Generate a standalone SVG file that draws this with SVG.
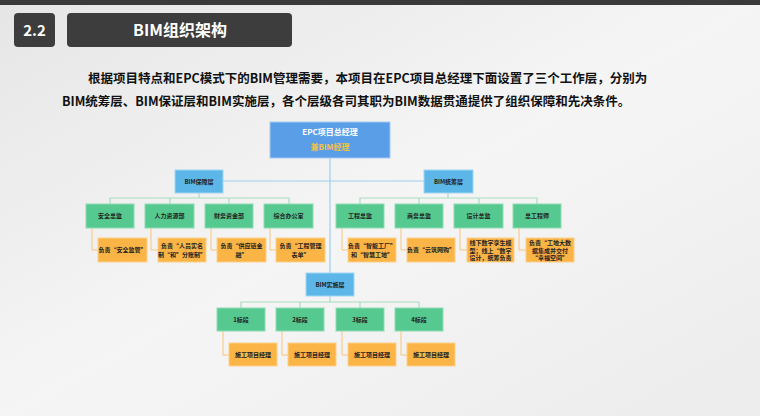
<svg xmlns="http://www.w3.org/2000/svg" width="760" height="416" viewBox="0 0 760 416">
<defs>
<style>
text{font-family:"Noto Sans CJK SC","Liberation Sans",sans-serif;text-anchor:middle}
.g{fill:#55c98f;stroke:#8fdcb3;stroke-width:1}
.o{fill:#fbb446;stroke:#fcd08a;stroke-width:1}
.b{fill:#5cb6e8;stroke:#9fd6f3;stroke-width:1}
.t{font-size:6px;fill:#222;font-weight:bold}
.ln{fill:none;stroke:#a8dcc0;stroke-width:1.2}
.lo{fill:none;stroke:#f9c57a;stroke-width:1}
.lb{fill:none;stroke:#9fcdf0;stroke-width:1.2}
</style>
<linearGradient id="bg" x1="0" y1="0" x2="1" y2="1"><stop offset="0" stop-color="#e6e6e6"/><stop offset="0.5" stop-color="#f5f5f5"/><stop offset="1" stop-color="#ececec"/></linearGradient>
</defs>
<rect width="760" height="416" fill="url(#bg)"/>
<rect width="760" height="5" fill="#3a3a3a"/>
<g id="header">
<rect x="14" y="13" width="41" height="34" rx="4" fill="#3d3d3d"/>
<text x="34.5" y="36" style="font-size:15px;fill:#fff;font-weight:bold">2.2</text>
<rect x="67" y="13" width="225" height="34" rx="4" fill="#3d3d3d"/>
<text x="180" y="36" style="font-size:16px;fill:#fff;font-weight:bold">BIM组织架构</text>
</g>
<g id="intro" style="font-size:12.5px;font-weight:bold;fill:#111">
<text x="88" y="83" style="text-anchor:start">根据项目特点和EPC模式下的BIM管理需要，本项目在EPC项目总经理下面设置了三个工作层，分别为</text>
<text x="62" y="106" style="text-anchor:start">BIM统筹层、BIM保证层和BIM实施层，各个层级各司其职为BIM数据贯通提供了组织保障和先决条件。</text>
</g>
<g id="connectors">
<path class="lb" d="M330 158V273M199 181H448"/>
<path class="ln" d="M199 193V198M110 204V198H289V204M170 198V204M229 198V204"/>
<path class="ln" d="M448 193V198M360 204V198H537V204M419 198V204M479 198V204"/>
<path class="ln" d="M330 296V302M241 308V302H419V308M300 302V308M360 302V308"/>
<path class="lo" d="M92 228V250H98M151 228V250H158M211 228V250H217M270 228V250H276"/>
<path class="lo" d="M342 228V250H348M401 228V250H407M460 228V250H467M519 228V250H526"/>
<path class="lo" d="M223 331V355H229M282 331V355H288M342 331V355H348M401 331V355H407"/>
</g>
<g id="epc"><rect x="270" y="122" width="120" height="36" fill="#5b9ee8" stroke="#a6c9f2"/>
<text x="330" y="135" style="font-size:8px;fill:#fff;font-weight:bold">EPC项目总经理</text>
<text x="330" y="150" style="font-size:8px;fill:#f7c040;font-weight:bold">兼BIM经理</text></g>
<g id="bzc"><rect class="b" x="175" y="170" width="48" height="23"/><text class="t" x="199" y="184">BIM保障层</text></g>
<g id="tcc"><rect class="b" x="424" y="170" width="49" height="23"/><text class="t" x="448.5" y="184">BIM统筹层</text></g>
<g id="ssc"><rect class="b" x="306" y="273" width="48" height="23"/><text class="t" x="330" y="287">BIM实施层</text></g>
<g id="l1"><rect class="g" x="86" y="204" width="48" height="24"/><text class="t" x="110" y="218">安全总监</text></g>
<g id="l2"><rect class="g" x="145" y="204" width="49" height="24"/><text class="t" x="169.5" y="218">人力资源部</text></g>
<g id="l3"><rect class="g" x="205" y="204" width="48" height="24"/><text class="t" x="229" y="218">财务资金部</text></g>
<g id="l4"><rect class="g" x="264" y="204" width="49" height="24"/><text class="t" x="288.5" y="218">综合办公室</text></g>
<g id="r1"><rect class="g" x="336" y="204" width="48" height="24"/><text class="t" x="360" y="218">工程总监</text></g>
<g id="r2"><rect class="g" x="395" y="204" width="48" height="24"/><text class="t" x="419" y="218">商务总监</text></g>
<g id="r3"><rect class="g" x="454" y="204" width="49" height="24"/><text class="t" x="478.5" y="218">设计总监</text></g>
<g id="r4"><rect class="g" x="513" y="204" width="48" height="24"/><text class="t" x="537" y="218">总工程师</text></g>
<g id="lo1"><rect class="o" x="98" y="238" width="49" height="24"/><text class="t" x="122.5" y="252">负责“安全监管”</text></g>
<g id="lo2"><rect class="o" x="158" y="238" width="48" height="24"/><text class="t" x="182" y="248">负责“人员实名</text><text class="t" x="182" y="257">制“和”分账制”</text></g>
<g id="lo3"><rect class="o" x="217" y="238" width="49" height="24"/><text class="t" x="241.5" y="248">负责“供应链金</text><text class="t" x="241.5" y="257">融”</text></g>
<g id="lo4"><rect class="o" x="276" y="238" width="49" height="24"/><text class="t" x="300.5" y="248">负责“工程管理</text><text class="t" x="300.5" y="257">表单”</text></g>
<g id="ro1"><rect class="o" x="348" y="238" width="48" height="24"/><text class="t" x="372" y="248">负责“智能工厂”</text><text class="t" x="372" y="257">和“智慧工地”</text></g>
<g id="ro2"><rect class="o" x="407" y="238" width="48" height="24"/><text class="t" x="431" y="252">负责“云筑网购”</text></g>
<g id="ro3"><rect class="o" x="467" y="238" width="47" height="24"/><text class="t" x="490.5" y="245">线下数字孪生模</text><text class="t" x="490.5" y="252.5">型；线上“数字</text><text class="t" x="490.5" y="260">设计，统筹负责</text></g>
<g id="ro4"><rect class="o" x="526" y="238" width="48" height="24"/><text class="t" x="550" y="245">负责“工地大数</text><text class="t" x="550" y="252.5">据集成并交付</text><text class="t" x="550" y="260">“幸福空间”</text></g>
<g id="s1"><rect class="g" x="217" y="308" width="48" height="23"/><text class="t" x="241" y="322">1标段</text></g>
<g id="s2"><rect class="g" x="276" y="308" width="48" height="23"/><text class="t" x="300" y="322">2标段</text></g>
<g id="s3"><rect class="g" x="336" y="308" width="48" height="23"/><text class="t" x="360" y="322">3标段</text></g>
<g id="s4"><rect class="g" x="395" y="308" width="48" height="23"/><text class="t" x="419" y="322">4标段</text></g>
<g id="so1"><rect class="o" x="229" y="343" width="48" height="23"/><text class="t" x="253" y="357">施工项目经理</text></g>
<g id="so2"><rect class="o" x="288" y="343" width="48" height="23"/><text class="t" x="312" y="357">施工项目经理</text></g>
<g id="so3"><rect class="o" x="348" y="343" width="48" height="23"/><text class="t" x="372" y="357">施工项目经理</text></g>
<g id="so4"><rect class="o" x="407" y="343" width="48" height="23"/><text class="t" x="431" y="357">施工项目经理</text></g>
</svg>
